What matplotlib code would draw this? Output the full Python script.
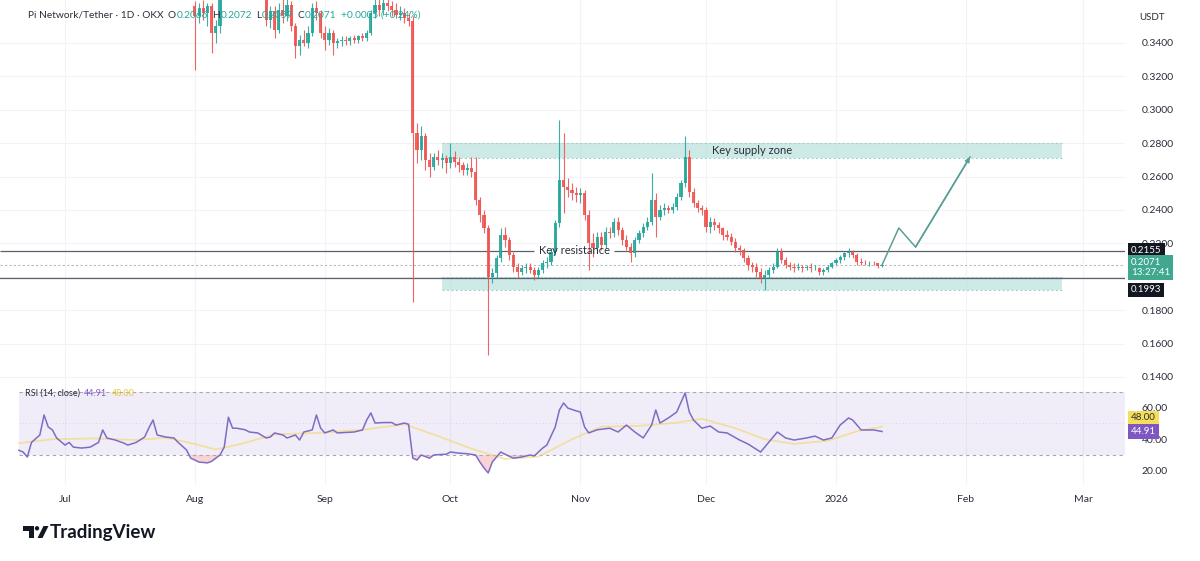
import matplotlib.pyplot as plt
import matplotlib.dates as mdates
import matplotlib.transforms as mtransforms
from matplotlib.patches import Rectangle, Polygon, Circle
import numpy as np
import pandas as pd

plt.rcParams['font.family'] = ['Lato', 'DejaVu Sans']

# daily candles from 2025-08-01 to 2026-01-12 (Aug..Jan, one line per month)
candle_start = '2025-08-01'
opens = [
    0.3620, 0.3560, 0.3610, 0.3580, 0.3620, 0.3460, 0.3500, 0.3680, 0.3800, 0.3900, 0.3850, 0.3800, 0.3780, 0.3820, 0.3740, 0.3720, 0.3760, 0.3700, 0.3540, 0.3590, 0.3480, 0.3600, 0.3560, 0.3630, 0.3500, 0.3380, 0.3420, 0.3400, 0.3460, 0.3610, 0.3580,
    0.3460, 0.3420, 0.3460, 0.3400, 0.3410, 0.3420, 0.3410, 0.3430, 0.3420, 0.3440, 0.3430, 0.3460, 0.3580, 0.3630, 0.3600, 0.3640, 0.3620, 0.3600, 0.3570, 0.3580, 0.3550, 0.3530, 0.2860, 0.2760, 0.2840, 0.2700, 0.2660, 0.2720, 0.2700, 0.2710,
    0.2680, 0.2720, 0.2690, 0.2670, 0.2640, 0.2650, 0.2630, 0.2460, 0.2370, 0.2290, 0.2000, 0.2020, 0.2110, 0.2250, 0.2220, 0.2130, 0.2060, 0.2030, 0.2050, 0.2060, 0.2040, 0.2010, 0.2040, 0.2080, 0.2090, 0.2150, 0.2320, 0.2580, 0.2540, 0.2520, 0.2500,
    0.2490, 0.2500, 0.2370, 0.2200, 0.2170, 0.2240, 0.2190, 0.2270, 0.2260, 0.2330, 0.2280, 0.2220, 0.2180, 0.2140, 0.2220, 0.2260, 0.2300, 0.2330, 0.2460, 0.2360, 0.2400, 0.2410, 0.2400, 0.2420, 0.2480, 0.2560, 0.2720, 0.2510, 0.2440, 0.2410,
    0.2400, 0.2300, 0.2330, 0.2310, 0.2290, 0.2250, 0.2240, 0.2210, 0.2170, 0.2160, 0.2110, 0.2070, 0.2060, 0.2030, 0.1990, 0.2010, 0.2040, 0.2060, 0.2150, 0.2100, 0.2070, 0.2060, 0.2050, 0.2060, 0.2050, 0.2060, 0.2050, 0.2055, 0.2030, 0.2040, 0.2060,
    0.2080, 0.2100, 0.2120, 0.2140, 0.2150, 0.2130, 0.2090, 0.2085, 0.2080, 0.2085, 0.2080, 0.2066,
]
highs = [
    0.3650, 0.3640, 0.3655, 0.3640, 0.3640, 0.3540, 0.3700, 0.3850, 0.3950, 0.3980, 0.3900, 0.3870, 0.3850, 0.3860, 0.3800, 0.3780, 0.3790, 0.3720, 0.3620, 0.3620, 0.3640, 0.3680, 0.3660, 0.3650, 0.3520, 0.3450, 0.3480, 0.3500, 0.3640, 0.3650, 0.3600,
    0.3500, 0.3490, 0.3480, 0.3430, 0.3440, 0.3440, 0.3440, 0.3450, 0.3450, 0.3460, 0.3480, 0.3600, 0.3660, 0.3680, 0.3670, 0.3680, 0.3650, 0.3640, 0.3620, 0.3610, 0.3580, 0.3560, 0.2920, 0.2900, 0.2860, 0.2740, 0.2740, 0.2760, 0.2740, 0.2730,
    0.2800, 0.2750, 0.2720, 0.2690, 0.2680, 0.2720, 0.2720, 0.2480, 0.2400, 0.2310, 0.2050, 0.2130, 0.2290, 0.2300, 0.2240, 0.2150, 0.2080, 0.2070, 0.2080, 0.2080, 0.2060, 0.2060, 0.2100, 0.2120, 0.2170, 0.2340, 0.2940, 0.2860, 0.2590, 0.2560, 0.2540,
    0.2530, 0.2520, 0.2400, 0.2260, 0.2270, 0.2270, 0.2300, 0.2300, 0.2350, 0.2360, 0.2300, 0.2250, 0.2200, 0.2240, 0.2280, 0.2320, 0.2360, 0.2620, 0.2500, 0.2430, 0.2440, 0.2430, 0.2440, 0.2500, 0.2580, 0.2840, 0.2760, 0.2530, 0.2460, 0.2430,
    0.2420, 0.2360, 0.2350, 0.2330, 0.2300, 0.2280, 0.2260, 0.2230, 0.2190, 0.2170, 0.2130, 0.2090, 0.2080, 0.2050, 0.2040, 0.2060, 0.2080, 0.2175, 0.2170, 0.2120, 0.2090, 0.2080, 0.2080, 0.2070, 0.2070, 0.2080, 0.2070, 0.2060, 0.2050, 0.2070, 0.2090,
    0.2110, 0.2130, 0.2150, 0.2170, 0.2160, 0.2140, 0.2110, 0.2100, 0.2095, 0.2095, 0.2085, 0.2072,
]
lows = [
    0.3235, 0.3520, 0.3540, 0.3500, 0.3340, 0.3400, 0.3460, 0.3665, 0.3750, 0.3820, 0.3760, 0.3720, 0.3720, 0.3700, 0.3690, 0.3680, 0.3670, 0.3500, 0.3490, 0.3430, 0.3460, 0.3520, 0.3530, 0.3470, 0.3310, 0.3330, 0.3380, 0.3370, 0.3440, 0.3540, 0.3430,
    0.3360, 0.3390, 0.3330, 0.3370, 0.3380, 0.3390, 0.3390, 0.3400, 0.3400, 0.3410, 0.3410, 0.3450, 0.3550, 0.3560, 0.3570, 0.3590, 0.3560, 0.3550, 0.3540, 0.3520, 0.3500, 0.1850, 0.2680, 0.2700, 0.2640, 0.2600, 0.2640, 0.2670, 0.2650, 0.2620,
    0.2650, 0.2660, 0.2630, 0.2610, 0.2610, 0.2600, 0.2430, 0.2330, 0.2260, 0.1533, 0.1960, 0.1990, 0.2090, 0.2180, 0.2100, 0.2030, 0.1990, 0.2010, 0.2020, 0.2020, 0.1980, 0.1990, 0.2020, 0.2050, 0.2070, 0.2130, 0.2300, 0.2380, 0.2480, 0.2460, 0.2450,
    0.2440, 0.2340, 0.2040, 0.2120, 0.2140, 0.2160, 0.2170, 0.2230, 0.2240, 0.2250, 0.2190, 0.2160, 0.2090, 0.2120, 0.2200, 0.2240, 0.2280, 0.2310, 0.2240, 0.2340, 0.2370, 0.2380, 0.2380, 0.2400, 0.2460, 0.2540, 0.2480, 0.2420, 0.2390, 0.2370,
    0.2270, 0.2260, 0.2280, 0.2260, 0.2220, 0.2220, 0.2190, 0.2150, 0.2130, 0.2090, 0.2040, 0.2030, 0.2000, 0.1960, 0.1920, 0.1990, 0.2020, 0.2050, 0.2080, 0.2050, 0.2040, 0.2030, 0.2040, 0.2030, 0.2040, 0.2030, 0.2040, 0.2010, 0.2010, 0.2030, 0.2050,
    0.2070, 0.2080, 0.2100, 0.2120, 0.2110, 0.2070, 0.2070, 0.2070, 0.2065, 0.2070, 0.2050, 0.2057,
]
closes = [
    0.3560, 0.3610, 0.3580, 0.3620, 0.3460, 0.3500, 0.3680, 0.3800, 0.3900, 0.3850, 0.3800, 0.3780, 0.3820, 0.3740, 0.3720, 0.3760, 0.3700, 0.3540, 0.3590, 0.3480, 0.3600, 0.3560, 0.3630, 0.3500, 0.3380, 0.3420, 0.3400, 0.3460, 0.3610, 0.3580, 0.3460,
    0.3420, 0.3460, 0.3400, 0.3410, 0.3420, 0.3410, 0.3430, 0.3420, 0.3440, 0.3430, 0.3460, 0.3580, 0.3630, 0.3600, 0.3640, 0.3620, 0.3600, 0.3570, 0.3580, 0.3550, 0.3530, 0.2860, 0.2760, 0.2840, 0.2700, 0.2660, 0.2720, 0.2700, 0.2710, 0.2680,
    0.2720, 0.2690, 0.2670, 0.2640, 0.2650, 0.2630, 0.2460, 0.2370, 0.2290, 0.2000, 0.2020, 0.2110, 0.2250, 0.2220, 0.2130, 0.2060, 0.2030, 0.2050, 0.2060, 0.2040, 0.2010, 0.2040, 0.2080, 0.2090, 0.2150, 0.2320, 0.2580, 0.2540, 0.2520, 0.2500, 0.2490,
    0.2500, 0.2370, 0.2200, 0.2170, 0.2240, 0.2190, 0.2270, 0.2260, 0.2330, 0.2280, 0.2220, 0.2180, 0.2140, 0.2220, 0.2260, 0.2300, 0.2330, 0.2460, 0.2360, 0.2400, 0.2410, 0.2400, 0.2420, 0.2480, 0.2560, 0.2720, 0.2510, 0.2440, 0.2410, 0.2400,
    0.2300, 0.2330, 0.2310, 0.2290, 0.2250, 0.2240, 0.2210, 0.2170, 0.2160, 0.2110, 0.2070, 0.2060, 0.2030, 0.1990, 0.2010, 0.2040, 0.2060, 0.2150, 0.2100, 0.2070, 0.2060, 0.2050, 0.2060, 0.2050, 0.2060, 0.2050, 0.2055, 0.2030, 0.2040, 0.2060, 0.2080,
    0.2100, 0.2120, 0.2140, 0.2150, 0.2130, 0.2090, 0.2085, 0.2080, 0.2085, 0.2080, 0.2066, 0.2071,
]

rsi_dates = [
    '2025-06-20', '2025-06-21', '2025-06-22', '2025-06-23', '2025-06-25', '2025-06-26', '2025-06-27', '2025-06-28', '2025-06-29',
    '2025-07-01', '2025-07-02', '2025-07-03', '2025-07-05', '2025-07-07', '2025-07-09', '2025-07-10', '2025-07-11', '2025-07-13',
    '2025-07-15', '2025-07-16', '2025-07-18', '2025-07-20', '2025-07-21', '2025-07-22', '2025-07-23', '2025-07-25', '2025-07-27',
    '2025-07-28', '2025-07-30', '2025-07-31', '2025-08-02', '2025-08-04', '2025-08-05', '2025-08-07', '2025-08-08', '2025-08-09',
    '2025-08-10', '2025-08-11', '2025-08-13', '2025-08-14', '2025-08-16', '2025-08-18', '2025-08-19', '2025-08-20', '2025-08-22',
    '2025-08-23', '2025-08-25', '2025-08-26', '2025-08-27', '2025-08-29', '2025-08-30', '2025-08-31', '2025-09-01', '2025-09-03',
    '2025-09-04', '2025-09-06', '2025-09-08', '2025-09-10', '2025-09-11', '2025-09-12', '2025-09-13', '2025-09-15', '2025-09-17',
    '2025-09-18', '2025-09-20', '2025-09-21', '2025-09-22', '2025-09-23', '2025-09-24', '2025-09-26', '2025-09-27', '2025-09-30',
    '2025-10-01', '2025-10-03', '2025-10-05', '2025-10-07', '2025-10-08', '2025-10-09', '2025-10-10', '2025-10-11', '2025-10-13',
    '2025-10-14', '2025-10-16', '2025-10-18', '2025-10-20', '2025-10-21', '2025-10-23', '2025-10-24', '2025-10-26', '2025-10-27',
    '2025-10-28', '2025-10-29', '2025-10-31', '2025-11-01', '2025-11-02', '2025-11-03', '2025-11-05', '2025-11-08', '2025-11-10',
    '2025-11-12', '2025-11-14', '2025-11-16', '2025-11-18', '2025-11-19', '2025-11-20', '2025-11-22', '2025-11-24', '2025-11-26',
    '2025-11-27', '2025-11-28', '2025-11-30', '2025-12-02', '2025-12-04', '2025-12-06', '2025-12-09', '2025-12-11', '2025-12-14',
    '2025-12-15', '2025-12-18', '2025-12-20', '2025-12-22', '2025-12-25', '2025-12-27', '2025-12-29', '2025-12-31', '2026-01-02',
    '2026-01-04', '2026-01-05', '2026-01-07', '2026-01-08', '2026-01-10', '2026-01-12',
]
rsi_values = [
    33.0, 31.9, 28.7, 38.0, 42.7, 55.4, 47.8, 45.9, 40.8,
    36.3, 38.0, 35.0, 34.4, 35.0, 38.0, 45.9, 40.8, 39.5,
    37.6, 36.3, 38.0, 41.4, 47.1, 52.2, 42.7, 41.4, 40.8,
    38.0, 33.2, 28.0, 25.5, 25.0, 26.0, 30.0, 35.0, 54.0,
    47.0, 47.0, 46.0, 44.6, 44.0, 40.8, 41.4, 44.0, 42.7,
    40.8, 42.7, 39.5, 44.6, 45.9, 55.4, 47.1, 44.0, 45.9,
    44.0, 44.3, 44.6, 45.9, 52.2, 56.7, 50.3, 50.6, 50.6,
    49.0, 50.3, 49.5, 28.0, 26.8, 30.0, 28.0, 30.0, 30.5,
    31.9, 31.2, 30.8, 30.0, 25.6, 21.8, 18.6, 25.6, 31.9,
    30.5, 28.0, 28.7, 30.0, 29.4, 34.4, 36.3, 47.8, 58.6,
    63.0, 59.8, 58.0, 57.3, 47.8, 44.0, 46.0, 47.0, 44.6,
    49.0, 44.6, 40.8, 49.0, 58.6, 50.3, 53.5, 57.3, 69.4,
    57.3, 52.2, 47.0, 48.4, 44.6, 44.0, 39.5, 37.0, 31.9,
    35.0, 44.6, 40.8, 39.5, 40.8, 42.0, 39.5, 40.8, 49.0,
    53.5, 52.2, 45.9, 45.9, 45.9, 44.91,
]
rsi_ma_dates = [
    '2025-06-20', '2025-06-28', '2025-07-08', '2025-07-18', '2025-07-25', '2025-08-01', '2025-08-06',
    '2025-08-12', '2025-08-20', '2025-08-30', '2025-09-10', '2025-09-20', '2025-09-28', '2025-10-06',
    '2025-10-14', '2025-10-22', '2025-10-30', '2025-11-06', '2025-11-15', '2025-11-24', '2025-11-30',
    '2025-12-08', '2025-12-15', '2025-12-22', '2025-12-30', '2026-01-06', '2026-01-12',
]
rsi_ma_values = [
    37.5, 40.0, 40.5, 39.5, 41.0, 37.0, 33.5,
    37.0, 43.0, 44.0, 46.0, 49.5, 42.0, 34.0,
    27.5, 29.0, 40.0, 48.0, 48.5, 50.5, 53.0,
    47.0, 40.0, 37.0, 39.0, 45.0, 48.0,
]

supply_zone = (0.2711, 0.2801)
demand_zone = (0.1919, 0.1999)
zone_dates = ('2025-09-29', '2026-02-24')
key_resistance = 0.2155
key_support = 0.1993
last_price = 0.2071
countdown = '13:27:41'
resistance_gap = ('2025-10-21', '2025-11-09')
arrow_dates = ['2026-01-12', '2026-01-16', '2026-01-20', '2026-02-02']
arrow_prices = [0.2071, 0.2292, 0.2178, 0.2717]

price_ticks = [0.14, 0.16, 0.18, 0.20, 0.22, 0.24, 0.26, 0.28, 0.30, 0.32, 0.34]
# 0.2000 sits under the price badges
price_labels = ['0.1400', '0.1600', '0.1800', '', '0.2200', '0.2400', '0.2600', '0.2800',
                '0.3000', '0.3200', '0.3400']
rsi_ticks = [20, 40, 60]
month_ticks = ['2025-07-01', '2025-08-01', '2025-09-01', '2025-10-01', '2025-11-01',
               '2025-12-01', '2026-01-01', '2026-02-01', '2026-03-01']
month_labels = ['Jul', 'Aug', 'Sep', 'Oct', 'Nov', 'Dec', '2026', 'Feb', 'Mar']

UP, DOWN = '#26a69a', '#ef5350'
TXT = '#2a2e39'
W, H = 1200, 561


def box(x0, y0, x1, y1):
    return [x0 / W, 1 - y1 / H, (x1 - x0) / W, (y1 - y0) / H]


def d(s):
    return mdates.date2num(pd.Timestamp(s))


fig = plt.figure(figsize=(W / 100, H / 100), dpi=100)
ax = fig.add_axes(box(0, 0, 1125, 385))
ax2 = fig.add_axes(box(0, 385, 1125, 485), sharex=ax)

# Jul 1 sits 65px from the left, 4.19px per day
xmin, xmax = d('2025-07-01') - 65 / 4.19, d('2025-07-01') + 1060 / 4.19

# candles
x = mdates.date2num(pd.date_range(candle_start, periods=len(closes), freq='D'))
o, hi, lo, c = (np.array(v) for v in (opens, highs, lows, closes))
col = np.where(c >= o, UP, DOWN)
ax.vlines(x, lo, hi, colors=col, lw=0.8, alpha=0.9, zorder=3)
ax.bar(x, np.maximum(np.abs(c - o), 0.0005), bottom=np.minimum(o, c), width=0.75,
       color=col, lw=0, alpha=0.9, zorder=3)

# zones
zx0, zx1 = d(zone_dates[0]), d(zone_dates[1])
for lo_, hi_ in (supply_zone, demand_zone):
    ax.add_patch(Rectangle((zx0, lo_), zx1 - zx0, hi_ - lo_, facecolor='#b2dfdb',
                           alpha=0.65, edgecolor='none', zorder=1))
    ax.hlines([lo_, hi_], zx0, zx1, colors='#a6d3cc', linestyles=(0, (2, 2)), lw=0.8, zorder=1)
ax.text((zx0 + zx1) / 2, sum(supply_zone) / 2, 'Key supply zone', ha='center', va='center',
        fontsize=8, color=TXT, zorder=4)

# horizontal levels
g0, g1 = d(resistance_gap[0]), d(resistance_gap[1])
ax.hlines(key_resistance, xmin, g0, colors='#5d606b', lw=0.9, zorder=2)
ax.hlines(key_resistance, g1, xmax, colors='#5d606b', lw=0.9, zorder=2)
ax.text((g0 + g1) / 2, key_resistance, 'Key resistance', ha='center', va='center',
        fontsize=8, color=TXT, zorder=4)
ax.axhline(key_support, color='#5d606b', lw=0.9, zorder=2)
ax.axhline(last_price, color='#b5b8bf', lw=0.8, ls=(0, (2, 2)), zorder=2)

# projected path
ax_x = [d(s) for s in arrow_dates]
ax.plot(ax_x, arrow_prices, color='#5a9f98', lw=1.1, zorder=5)
ax.annotate('', xy=(ax_x[-1], arrow_prices[-1]), xytext=(ax_x[-2], arrow_prices[-2]),
            arrowprops=dict(arrowstyle='-|>', color='#5a9f98', lw=1.1, mutation_scale=7,
                            shrinkA=0, shrinkB=0), zorder=5)

# RSI pane
rx = mdates.date2num(pd.to_datetime(rsi_dates))
rv = np.array(rsi_values)
mx = mdates.date2num(pd.to_datetime(rsi_ma_dates))
ax2.fill_between([rx[0], xmax], 30, 70, color='#7e57c2', alpha=0.1, lw=0)
ax2.hlines([30, 70], rx[0], xmax, colors='#a9a6b8', linestyles=(0, (3, 3)), lw=0.8)
ax2.hlines(50, rx[0], xmax, colors='#cfcbe0', linestyles=(0, (1, 3)), lw=0.6)
ax2.fill_between(rx, rv, 30, where=rv < 30, interpolate=True, color=DOWN, alpha=0.25, lw=0)
ax2.fill_between(rx, rv, 70, where=rv > 70, interpolate=True, color=UP, alpha=0.25, lw=0)
ax2.plot(mx, rsi_ma_values, color='#f2d45c', lw=1.3, alpha=0.55)
ax2.plot(rx, rv, color='#7e6cc4', lw=1.1)

# axes styling
for a in (ax, ax2):
    a.set_xlim(xmin, xmax)
    for s in a.spines.values():
        s.set_visible(False)
    a.yaxis.tick_right()
    a.tick_params(axis='both', length=0, labelsize=7.5, labelcolor=TXT)
    a.grid(True, color='#f2f3f5', lw=0.8)
    a.set_axisbelow(True)
ax.set_ylim(0.1352, 0.3657)
ax2.set_ylim(10.95, 74.44)
ax2.grid(axis='y', visible=False)
ax.set_yticks(price_ticks, price_labels)
ax2.set_yticks(rsi_ticks, [f'{t:.2f}' for t in rsi_ticks])
ax.tick_params(axis='y', pad=12)
ax2.tick_params(axis='y', pad=12)
ax2.set_xticks([d(m) for m in month_ticks], month_labels)
ax.tick_params(axis='x', labelbottom=False)
ax2.tick_params(axis='x', pad=7)

# price scale badges
tr = mtransforms.blended_transform_factory(ax.transAxes, ax.transData)
tr2 = mtransforms.blended_transform_factory(ax2.transAxes, ax2.transData)
badge = dict(fontsize=7, ha='left', va='center', color='white', zorder=10, clip_on=False)
ax.text(1.0055, key_resistance, f'{key_resistance:.4f}', transform=tr,
        bbox=dict(boxstyle='square,pad=0.3', fc='#131722', ec='none'), **badge)
ax.text(1.0055, 0.2053, f'{last_price:.4f}\n{countdown}', transform=tr, linespacing=1.15,
        bbox=dict(boxstyle='square,pad=0.3', fc='#3fa88f', ec='none'), **badge)
ax.text(1.0055, 0.1921, f'{key_support:.4f}', transform=tr,
        bbox=dict(boxstyle='square,pad=0.3', fc='#131722', ec='none'), **badge)
ax2.text(1.0055, 53.5, f'{rsi_ma_values[-1]:.2f}', transform=tr2,
         bbox=dict(boxstyle='square,pad=0.3', fc='#f5df5a', ec='none'),
         **{**badge, 'color': TXT})
ax2.text(1.0055, rsi_values[-1], f'{rsi_values[-1]:.2f}', transform=tr2,
         bbox=dict(boxstyle='square,pad=0.3', fc='#7e57c2', ec='none'), **badge)
fig.text(1152 / W, 1 - 17 / H, 'USDT', fontsize=7, color=TXT, ha='center', va='center')


# legend lines built from chained text pieces
def chain(a, x0, y0, parts, size):
    t = fig.text(x0 / W, 1 - y0 / H, parts[0][0], color=parts[0][1], fontsize=size, va='center')
    for s, colr, gap in parts[1:]:
        t = a.annotate(s, xy=(1, 0.5), xycoords=t, xytext=(gap, 0), textcoords='offset points',
                       va='center', ha='left', color=colr, fontsize=size, annotation_clip=False)


green = '#26a69a'
chain(ax, 28, 15, [('Pi Network/Tether · 1D · OKX', TXT), ('O', TXT, 3), ('0.2066', green, 0.5),
                   ('H', TXT, 3), ('0.2072', green, 0.5), ('L', TXT, 3), ('0.2057', green, 0.5),
                   ('C', TXT, 3), ('0.2071', green, 0.5), ('+0.0005 (+0.24%)', green, 3)], 7.3)
chain(ax2, 25, 393, [('RSI (14, close)', TXT), (f'{rsi_values[-1]:.2f}', '#7e57c2', 3),
                     (f'{rsi_ma_values[-1]:.2f}', '#e8c93a', 3)], 6.5)

# TradingView mark
lax = fig.add_axes(box(20, 520, 160, 545))
lax.set_xlim(20, 160)
lax.set_ylim(545, 520)
lax.axis('off')
lax.add_patch(Polygon([(23, 526), (33.5, 526), (33.5, 538), (28.5, 538), (28.5, 530.5), (23, 530.5)],
                      closed=True, fc='#131722', ec='none'))
lax.add_patch(Circle((37, 528.3), 2.2, fc='#131722', ec='none'))
lax.add_patch(Polygon([(37.5, 538), (42.5, 538), (48.5, 526), (43.5, 526)], closed=True,
                      fc='#131722', ec='none'))
lax.text(50, 532.5, 'TradingView', fontsize=13.5, fontweight='bold', color='#131722',
         va='center', ha='left')

fig.savefig('out.png', dpi=100, facecolor='white')
